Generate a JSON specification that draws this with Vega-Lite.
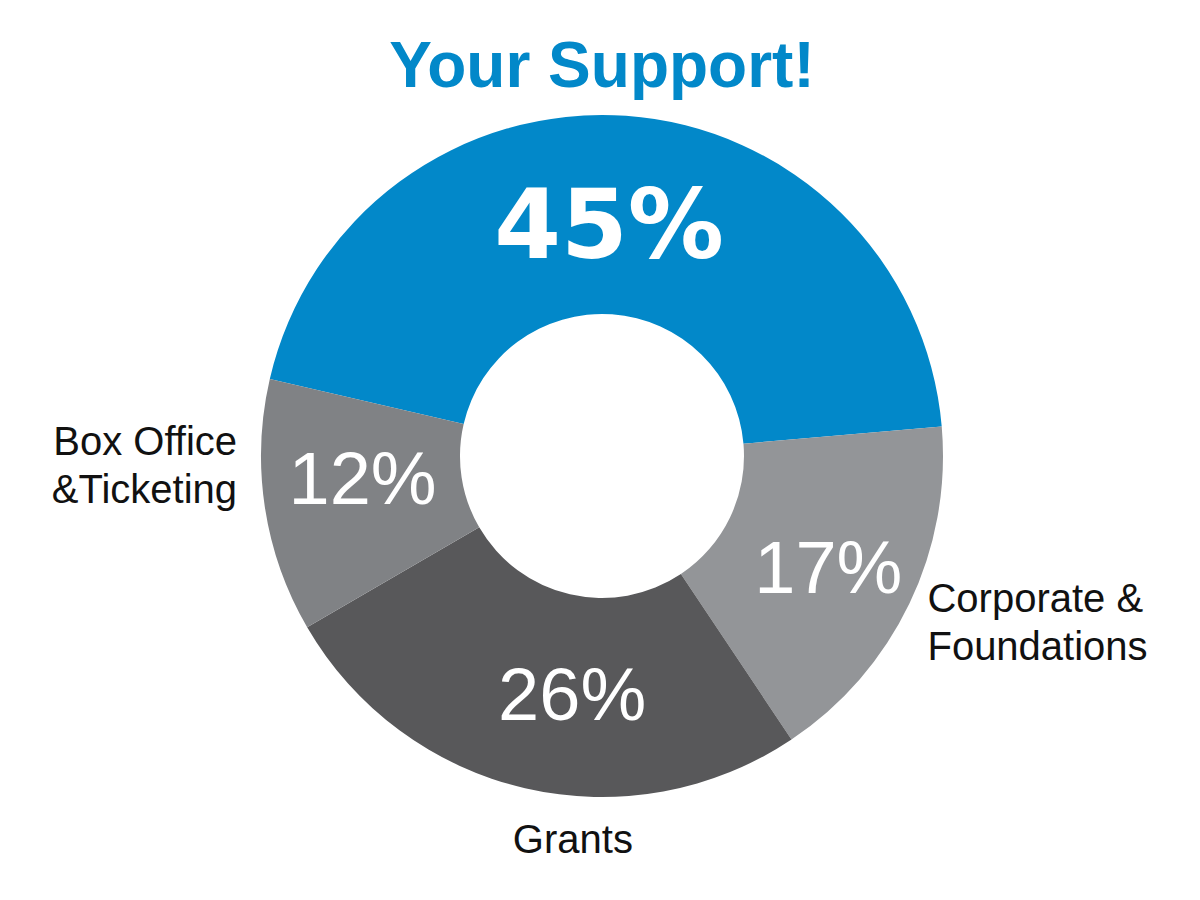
{
  "$schema": "https://vega.github.io/schema/vega-lite/v6.json",
  "autosize": "none",
  "width": 1204,
  "height": 712,
  "padding": {"left": 0, "top": 100, "right": 0, "bottom": 88},
  "background": "white",
  "title": {
    "text": "Your Support!",
    "font": "Liberation Sans",
    "fontSize": 64,
    "fontWeight": "bold",
    "color": "#0288C9",
    "anchor": "middle",
    "baseline": "alphabetic",
    "offset": -151
  },
  "config": {"view": {"stroke": null}},
  "data": {
    "values": [
      {"cat": "Your Support", "value": 45, "idx": 1, "pct": "45%", "label": ""},
      {"cat": "Corporate & Foundations", "value": 17, "idx": 2, "pct": "17%", "label": "Corporate &\nFoundations"},
      {"cat": "Grants", "value": 26, "idx": 3, "pct": "26%", "label": "Grants"},
      {"cat": "Box Office & Ticketing", "value": 12, "idx": 4, "pct": "12%", "label": "Box Office\n&Ticketing"}
    ]
  },
  "encoding": {
    "theta": {"field": "value", "type": "quantitative", "stack": true, "scale": {"range": [4.94, 11.2232]}},
    "order": {"field": "idx", "type": "quantitative", "sort": "ascending"},
    "detail": {"field": "cat", "type": "nominal"}
  },
  "layer": [
    {
      "mark": {"type": "arc", "radius": 341, "radius2": 142},
      "encoding": {
        "color": {
          "field": "cat",
          "type": "nominal",
          "legend": null,
          "scale": {
            "domain": ["Your Support", "Corporate & Foundations", "Grants", "Box Office & Ticketing"],
            "range": ["#0288C9", "#939598", "#58585A", "#808285"]
          }
        }
      }
    },
    {
      "mark": {"type": "text", "radius": 228, "dx": -9, "font": "DejaVu Sans", "fontWeight": "bold", "fontSize": 96, "color": "white", "baseline": "middle", "align": "center"},
      "encoding": {
        "text": {"condition": {"test": "datum.cat == 'Your Support'", "field": "pct"}, "value": ""}
      }
    },
    {
      "mark": {"type": "text", "radius": 231, "dx": -11, "dy": -8, "font": "Liberation Sans", "fontSize": 74, "color": "white", "baseline": "middle", "align": "center"},
      "encoding": {
        "text": {"condition": {"test": "datum.cat == 'Box Office & Ticketing'", "field": "pct"}, "value": ""}
      }
    },
    {
      "mark": {"type": "text", "radius": 251, "dy": 6, "font": "Liberation Sans", "fontSize": 74, "color": "white", "baseline": "middle", "align": "center"},
      "encoding": {
        "text": {"condition": {"test": "datum.cat == 'Corporate & Foundations'", "field": "pct"}, "value": ""}
      }
    },
    {
      "mark": {"type": "text", "radius": 243, "dx": 25, "dy": 5, "font": "Liberation Sans", "fontSize": 74, "color": "white", "baseline": "middle", "align": "center"},
      "encoding": {
        "text": {"condition": {"test": "datum.cat == 'Grants'", "field": "pct"}, "value": ""}
      }
    },
    {
      "mark": {"type": "text", "radius": 369, "dy": -48, "font": "Liberation Sans", "fontSize": 40, "color": "#111111", "baseline": "bottom", "align": "right", "lineBreak": "\n", "lineHeight": 48},
      "encoding": {
        "text": {"condition": {"test": "datum.cat == 'Box Office & Ticketing'", "field": "label"}, "value": ""}
      }
    },
    {
      "mark": {"type": "text", "radius": 361, "font": "Liberation Sans", "fontSize": 40, "color": "#111111", "baseline": "alphabetic", "align": "left", "lineBreak": "\n", "lineHeight": 48},
      "encoding": {
        "text": {"condition": {"test": "datum.cat == 'Corporate & Foundations'", "field": "label"}, "value": ""}
      }
    },
    {
      "mark": {"type": "text", "radius": 395, "font": "Liberation Sans", "fontSize": 40, "color": "#111111", "baseline": "middle", "align": "left"},
      "encoding": {
        "text": {"condition": {"test": "datum.cat == 'Grants'", "field": "label"}, "value": ""}
      }
    }
  ]
}
